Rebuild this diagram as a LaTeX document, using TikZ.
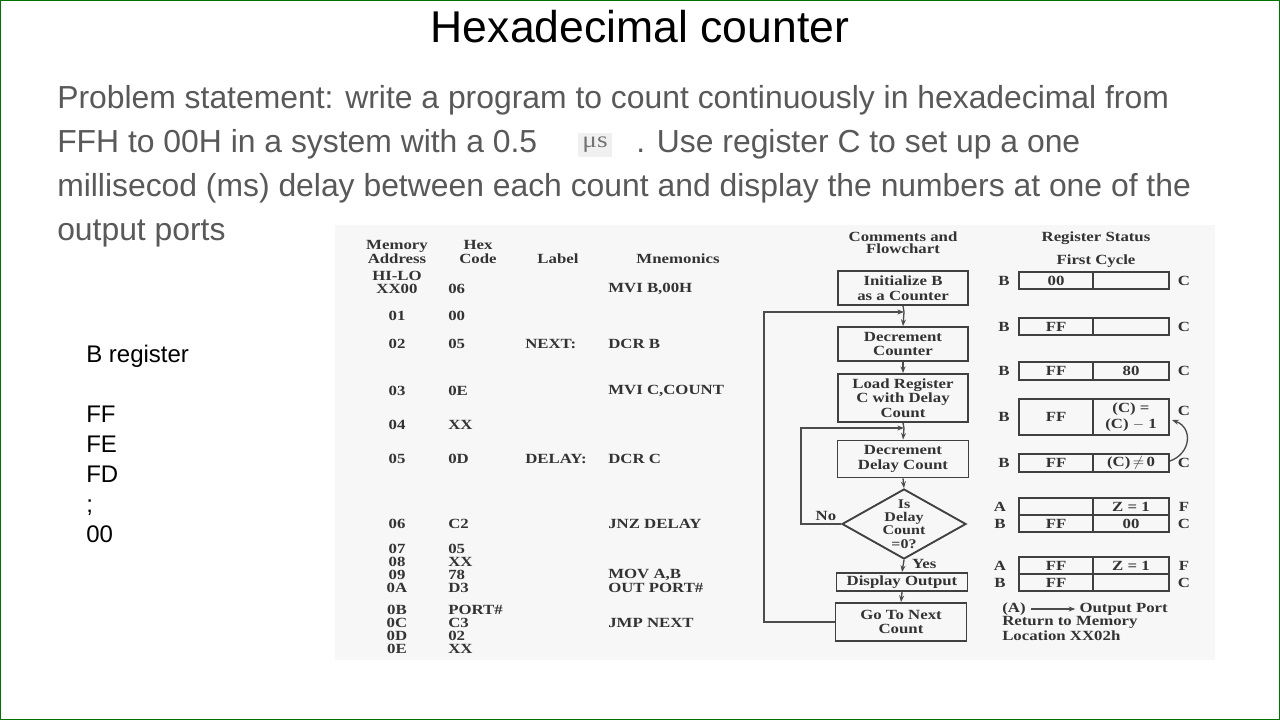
\documentclass[tikz,border=0pt]{standalone}
\usepackage{fontspec}
\setmainfont{Liberation Sans}
\newfontfamily\tbf{Liberation Serif}[BoldFont={* Bold},FakeStretch=1.2]
\usetikzlibrary{shapes.geometric,arrows.meta}
\begin{document}
\begin{tikzpicture}[x=0.75pt,y=-0.75pt,
  tt/.style={font=\tbf\bfseries\fontsize{10.5}{11}\selectfont,text=black!80,inner sep=0pt},
  fbox/.style={draw=black!75,line width=1.4pt,font=\tbf\bfseries\fontsize{10.5}{11}\selectfont,text=black!80,align=center,inner sep=0pt},
  rb/.style={draw=black!75,line width=1.4pt},
  ln/.style={draw=black!70,line width=1pt},
  ar/.style={ln,-{Stealth[length=5pt]}},
  pt/.style={font=\fontsize{23.9}{26}\selectfont,text=black!65,anchor=base west,inner sep=0pt},
  bl/.style={font=\fontsize{18}{20}\selectfont,anchor=base west,inner sep=0pt}]
\useasboundingbox (0,0) rectangle (1280,720);
\fill[white] (0,0) rectangle (1280,720);
\draw[green!45!black,line width=1.5pt] (0,0) rectangle (1280,720);
\fill[black!3] (335,225) rectangle (1215,660);
\node[font=\fontsize{33.4}{38}\selectfont,inner sep=0pt] (title) at (640,27) {Hexadecimal counter};
\node[pt] (p1) at (57,109) {Problem statement: write a program to count continuously in hexadecimal from};
\node[pt] (p2) at (57,153) {FFH to 00H in a system with a 0.5};
\node[fill=black!6,inner sep=3pt,font=\tbf\fontsize{17}{20}\selectfont,text=black!55] (mu) at (595,145) {μs};
\node[pt] (p2b) at (636,153) {. Use register C to set up a one};
\node[pt] (p3) at (57,197) {millisecod (ms) delay between each count and display the numbers at one of the};
\node[pt] (p4) at (57,241) {output ports};
\foreach \t/\y [count=\i] in {B register/362,FF/422,FE/452,FD/482,;/512,00/542}
  \node[bl] (b\i) at (86,\y) {\t};
% table headers
\node[tt,align=center] (h1) at (397,252) {Memory\\Address};
\node[tt,align=center] (h2) at (478,252) {Hex\\Code};
\node[tt] (h3) at (558,259) {Label};
\node[tt] (h4) at (678,259) {Mnemonics};
\node[tt] (h5) at (903,245) {\begin{tabular}{c}Comments and\\[-2pt]Flowchart\end{tabular}};
\node[tt] (h6) at (1096,238) {Register Status};
\node[tt] (h7) at (1096,261) {First Cycle};
\node[tt] (hl) at (397,276) {HI-LO};
\foreach \a/\h/\l/\m/\y [count=\i] in {
 XX00/06//{MVI B,00H}/289, 01/00///316, 02/05/NEXT:/DCR B/344, 03/0E//{MVI C,COUNT}/391,
 04/XX///425, 05/0D/DELAY:/DCR C/459, 06/C2//JNZ DELAY/524, 07/05///549, 08/XX///562,
 09/78//{MOV A,B}/575, 0A/D3//OUT PORT\#/588, 0B/PORT\#///610, 0C/C3//JMP NEXT/623,
 0D/02///636, 0E/XX///649}{
 \node[tt] (a\i) at (397,\y) {\a};
 \node[tt,anchor=west] (x\i) at (448,\y) {\h};
 \node[tt,anchor=west] (l\i) at (525,\y) {\l};
 \node[tt,anchor=west] (m\i) at (608,\y) {\m};
}
% flowchart
\node[fbox,minimum width=130*0.75pt,minimum height=34*0.75pt] (f1) at (903,288) {Initialize B\\as a Counter};
\node[fbox,minimum width=130*0.75pt,minimum height=34*0.75pt] (f2) at (903,344) {Decrement\\Counter};
\node[fbox,minimum width=130*0.75pt,minimum height=48*0.75pt] (f3) at (903,398) {Load Register\\C with Delay\\Count};
\node[fbox,minimum width=131*0.75pt,minimum height=37*0.75pt] (f4) at (903,459) {Decrement\\Delay Count};
\node[diamond,draw=black!75,line width=1.4pt,inner sep=0pt,minimum width=124*0.75pt,minimum height=70*0.75pt,aspect=1.75] (f5) at (904,524) {};
\node[tt,align=center,font=\tbf\bfseries\fontsize{10}{10}\selectfont] (f5t) at (904,524) {Is\\Delay\\Count\\=0?};
\node[fbox,minimum width=131*0.75pt,minimum height=18*0.75pt] (f6) at (902,582) {Display Output};
\node[fbox,minimum width=131*0.75pt,minimum height=38*0.75pt] (f7) at (901,622) {Go To Next\\Count};
\coordinate (j1) at (904,312);
\coordinate (j2) at (904,428);
\draw[ln] (f1.south) -- (j1);
\draw[ar] (j1) -- (f2.north);
\draw[ar] (f2.south) -- (f3.north);
\draw[ln] (f3.south) -- (j2);
\draw[ar] (j2) -- (f4.north);
\draw[ar] (f4.south) -- (f5.north);
\draw[ar] (f5.south) -- (f6.north) node[tt,pos=0.3,right=6pt] {Yes};
\draw[ar] (f6.south) -- (f7.north);
\draw[ar] (f7.west) -| (764,312) -- (j1);
\draw[ar] (f5.west) -| (801,428) -- (j2);
\node[tt] (no) at (826,516) {No};
% register status
\foreach \y/\h/\l/\r [count=\i] in {272/17/00/{},318/17/FF/{},362/18/FF/80,454/18/FF/{(C)$\,\neq\,$0}}{
  \draw[rb] (1019,\y) rectangle (1169,\y+\h);
  \draw[rb] (1093,\y) -- (1093,\y+\h);
  \node[tt] (rl\i) at (1056,\y+\h/2) {\l};
  \node[tt] (rr\i) at (1131,\y+\h/2) {\r};
  \node[tt] (rB\i) at (1004,\y+\h/2) {B};
  \node[tt] (rC\i) at (1184,\y+\h/2) {C};
}
\draw[rb] (1019,399) rectangle (1169,435);
\draw[rb] (1093,399) -- (1093,435);
\node[tt] (r4l) at (1056,417) {FF};
\node[tt] (r4a) at (1131,409) {(C) =};
\node[tt] (r4b) at (1131,425) {(C) $-$ 1};
\node[tt] (r4B) at (1004,417) {B};
\node[tt] (r4C) at (1184,411) {C};
\draw[ar] (1170,461) to[out=20,in=-20,looseness=1.4] (1172,420);
\foreach \y/\la/\ra/\lb/\rb [count=\i] in {498//{Z = 1}/FF/00,557/FF/{Z = 1}/FF/}{
  \draw[rb] (1019,\y) rectangle (1169,\y+34);
  \draw[rb] (1093,\y) -- (1093,\y+34);
  \draw[rb,line width=0.8pt] (1019,\y+17) -- (1169,\y+17);
  \node[tt] (sa\i) at (1056,\y+9) {\la};
  \node[tt] (sb\i) at (1131,\y+9) {\ra};
  \node[tt] (sc\i) at (1056,\y+26) {\lb};
  \node[tt] (sd\i) at (1131,\y+26) {\rb};
  \node[tt] (sA\i) at (1000,\y+9) {A};
  \node[tt] (sB\i) at (1000,\y+26) {B};
  \node[tt] (sF\i) at (1184,\y+9) {F};
  \node[tt] (sC\i) at (1184,\y+26) {C};
}
\node[tt,anchor=west] (o1) at (1002,609) {(A)};
\node[tt,anchor=east] (o2) at (1168,609) {Output Port};
\draw[ar] ([xshift=4pt]o1.east) -- ([xshift=-3pt]o2.west);
\node[tt,anchor=west] (o3) at (1002,622) {Return to Memory};
\node[tt,anchor=west] (o4) at (1002,636) {Location XX02\textsc{h}};
\end{tikzpicture}
\end{document}
